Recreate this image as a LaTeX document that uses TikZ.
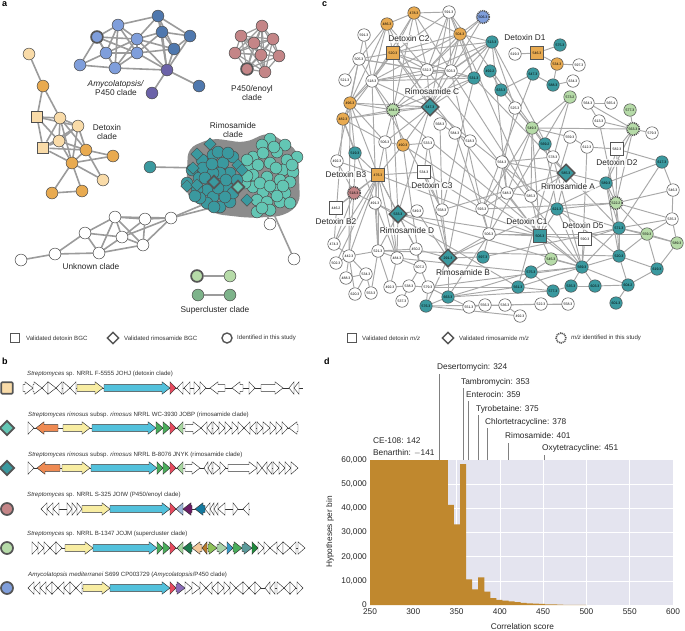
\documentclass[tikz,border=0pt]{standalone}
\usepackage{fontspec}
\setmainfont{Liberation Sans}
\usetikzlibrary{shapes.geometric}
\pgfdeclarelayer{bg}
\pgfdeclarelayer{paper}
\pgfsetlayers{paper,bg,main}
\definecolor{ndraw}{HTML}{4D4D4D}
\definecolor{thickc}{HTML}{555555}
\definecolor{edgeA}{HTML}{9B9B9B}
\definecolor{edgeC}{HTML}{A8A8A8}
\definecolor{amyL}{HTML}{7F9EDB}
\definecolor{amyD}{HTML}{4F78AE}
\definecolor{amyP}{HTML}{6B62A8}
\definecolor{pinkc}{HTML}{C48587}
\definecolor{detL}{HTML}{F9DBA8}
\definecolor{detO}{HTML}{E8AA50}
\definecolor{rimD}{HTML}{3A999F}
\definecolor{rimL}{HTML}{63C6B4}
\definecolor{supL}{HTML}{B6DBA8}
\definecolor{supD}{HTML}{7DB38A}
\definecolor{blobc}{HTML}{8C8C8C}
\definecolor{gY}{HTML}{F8EDA2}
\definecolor{gB}{HTML}{52C1DC}
\definecolor{gR}{HTML}{E84A5F}
\definecolor{gG}{HTML}{4AAE5C}
\definecolor{gLG}{HTML}{A8D7A0}
\definecolor{gO}{HTML}{EF8A52}
\definecolor{gLB}{HTML}{9DB8DA}
\definecolor{gPU}{HTML}{6C1D65}
\definecolor{gTB}{HTML}{13799F}
\definecolor{gDG}{HTML}{1C7A4D}
\definecolor{gPE}{HTML}{F5C99B}
\definecolor{gBR}{HTML}{B97B2C}
\definecolor{gYG}{HTML}{8FC35A}
\definecolor{gPG}{HTML}{A9D3A9}
\definecolor{gSB}{HTML}{3A9BC9}
\definecolor{gTG}{HTML}{5B9B9B}
\definecolor{gDGb}{HTML}{1F8A3B}
\definecolor{gPL}{HTML}{8A6BB8}
\definecolor{histc}{HTML}{C0882E}
\definecolor{plotbg}{HTML}{E4E4EF}
\definecolor{annc}{HTML}{808080}
\newcommand\genearrow[3]{%
 \pgfmathsetmacro\gnLen{abs(#2-#1)}%
 \pgfmathsetmacro\gnHd{(#2>#1) ? min(8,\gnLen) : -min(8,\gnLen)}%
 \pgfmathsetmacro\gnMid{#2-\gnHd}%
 \filldraw[genest, fill=#3] (#1,\gy-3.4) -- (\gnMid,\gy-3.4) -- (\gnMid,\gy-6.2) -- (#2,\gy) -- (\gnMid,\gy+6.2) -- (\gnMid,\gy+3.4) -- (#1,\gy+3.4) -- cycle;}
\tikzset{
 lbl/.style={font=\fontsize{8.3}{9.8}\selectfont, text=black!85, inner sep=0.5pt, align=center},
 pan/.style={font=\fontsize{9}{10}\selectfont\bfseries, inner sep=0pt, anchor=north west},
 ae/.style={draw=edgeA, line width=1.6pt},
 an/.style={circle, draw=ndraw, line width=0.5pt, minimum size=11.8pt, inner sep=0pt},
 athick/.style={line width=1.7pt, draw=thickc},
 asq/.style={rectangle, draw=ndraw, line width=0.5pt, minimum size=11pt, inner sep=0pt, fill=detL},
 adi/.style={diamond, draw=ndraw, line width=0.5pt, minimum size=12.5pt, inner sep=0pt, fill=rimD},
 ce/.style={draw=edgeC, line width=0.95pt},
 ncW/.style={circle, draw=ndraw, line width=0.5pt, minimum size=12.5pt, inner sep=0pt, font=\fontsize{3.5}{4}\selectfont, fill=white},
 ncO/.style={ncW, fill=detO},
 ncT/.style={ncW, fill=rimD},
 ncG/.style={ncW, fill=supL},
 dotb/.style={draw=thickc, line width=1.6pt, dash pattern=on 1pt off 0.9pt},
 ncGd/.style={ncW, fill=supL, dotb},
 ncBd/.style={ncW, fill=amyL, dotb},
 ncPd/.style={ncW, fill=pinkc, dotb},
 ncSq/.style={rectangle, draw=thickc, line width=1.5pt, minimum size=13pt, inner sep=0pt, font=\fontsize{3.5}{4}\selectfont, fill=white},
 ncOs/.style={ncSq, fill=detO},
 ncWs/.style={ncSq},
 ncTs/.style={ncSq, fill=rimD},
 ncTd/.style={diamond, draw=thickc, line width=1.5pt, minimum size=18pt, inner sep=0pt, fill=rimD, font=\fontsize{3.5}{4}\selectfont},
 clbl/.style={font=\fontsize{8.3}{9}\selectfont, fill=white, fill opacity=0.75, text opacity=1, inner sep=0.8pt, text=black!85},
 genest/.style={draw=black!80, line width=0.45pt},
 glbl/.style={font=\fontsize{6.1}{7}\selectfont, text=black!80, anchor=base west, inner sep=0pt},
 leg/.style={font=\fontsize{6.1}{7}\selectfont, text=black!80, anchor=west, inner sep=0pt},
 dl/.style={font=\fontsize{8.3}{9}\selectfont, text=black!85, inner sep=0pt},
 ann/.style={draw=annc, line width=0.7pt},
}
\begin{document}
\begin{tikzpicture}[x=1pt,y=-1pt]
\useasboundingbox (0,0) rectangle (685,630);
\begin{pgfonlayer}{paper}
\fill[white] (0,0) rectangle (685,630);
\end{pgfonlayer}

% ================= panel labels
\node[pan] (pa) at (2,1) {a};
\node[pan] (pc) at (322,1) {c};
\node[pan] (pb) at (2,358) {b};
\node[pan] (pd) at (324,358) {d};

% ================= panel a
% Amycolatopsis
\node[an, fill=amyL, athick] (m1) at (97,37) {};
\node[an, fill=amyL] (m2) at (118,25) {};
\node[an, fill=amyD] (m3) at (158,16) {};
\node[an, fill=amyL] (m4) at (137,39) {};
\node[an, fill=amyD] (m5) at (162,32) {};
\node[an, fill=amyD] (m6) at (190,36) {};
\node[an, fill=amyL] (m7) at (106,53) {};
\node[an, fill=amyL] (m8) at (137,53) {};
\node[an, fill=amyD] (m9) at (174,49) {};
\node[an, fill=amyL] (m10) at (80,65) {};
\node[an, fill=amyL] (m11) at (115,68) {};
\node[an, fill=amyP] (m12) at (167,70) {};
\node[an, fill=amyP] (m13) at (152,93) {};
\node[an, fill=amyD] (m14) at (199,86) {};
\begin{pgfonlayer}{bg}
\foreach \a/\b in {m1/m2,m1/m4,m1/m7,m1/m8,m1/m10,m1/m11,m2/m4,m2/m7,m2/m8,m2/m3,m2/m11,m4/m7,m4/m8,m4/m5,m4/m3,m4/m11,m4/m9,m7/m8,m7/m10,m7/m11,m8/m11,m8/m12,m8/m9,m8/m5,m10/m11,m11/m12,m3/m5,m3/m6,m3/m9,m5/m6,m5/m9,m5/m12,m6/m9,m9/m12,m6/m12,m12/m13,m12/m14,m3/m12,m4/m12}
 \draw[ae] (\a) -- (\b);
\end{pgfonlayer}
\node[lbl] (amylab) at (116,88) {\textit{Amycolatopsis/}\\P450 clade};

% P450/enoyl
\node[an, fill=pinkc] (p1) at (262,26) {};
\node[an, fill=pinkc] (p2) at (241,36) {};
\node[an, fill=pinkc] (p3) at (273,39) {};
\node[an, fill=pinkc] (p4) at (254,43) {};
\node[an, fill=pinkc] (p5) at (235,53) {};
\node[an, fill=pinkc] (p6) at (261,55) {};
\node[an, fill=pinkc] (p7) at (279,56) {};
\node[an, fill=pinkc, athick] (p8) at (247,69) {};
\node[an, fill=pinkc] (p9) at (265,72) {};
\begin{pgfonlayer}{bg}
\foreach \i in {1,...,8} {
  \pgfmathtruncatemacro\jst{\i+1}
  \foreach \j in {\jst,...,9} \draw[ae, line width=1.2pt] (p\i) -- (p\j);
}
\end{pgfonlayer}
\node[lbl] (enlab) at (252,93) {P450/enoyl\\clade};

% Detoxin
\node[an, fill=detL] (x1) at (29,54) {};
\node[an, fill=detO] (x2) at (43,86) {};
\node[asq] (x3) at (37,117) {};
\node[an, fill=detL] (x4) at (60,118) {};
\node[an, fill=detL] (x5) at (78,126) {};
\node[asq, athick] (x6) at (43,148) {};
\node[an, fill=detL] (x7) at (59,141) {};
\node[an, fill=detO] (x8) at (86,150) {};
\node[an, fill=detO] (x9) at (113,156) {};
\node[an, fill=detO] (x10) at (72,163) {};
\node[an, fill=detL] (x11) at (103,180) {};
\node[an, fill=detO] (x12) at (52,193) {};
\node[an, fill=detO] (x13) at (82,191) {};
\begin{pgfonlayer}{bg}
\foreach \a/\b in {x1/x2,x2/x3,x2/x4,x3/x4,x3/x6,x3/x7,x3/x5,x4/x5,x4/x7,x4/x8,x4/x6,x4/x10,x5/x7,x5/x8,x5/x10,x6/x7,x6/x8,x6/x10,x7/x8,x7/x10,x8/x9,x8/x10,x8/x11,x9/x10,x10/x11,x10/x12,x10/x13,x12/x13,x6/x5}
 \draw[ae] (\a) -- (\b);
\end{pgfonlayer}
\node[lbl] (detlab) at (107,132) {Detoxin\\clade};

% Rimosamide clade
\begin{pgfonlayer}{bg}
\fill[blobc, rounded corners=9pt] (188,148) -- (212,138) -- (245,143) -- (268,132) -- (298,150) -- (300,204) -- (284,216) -- (250,218) -- (214,214) -- (186,196) -- cycle;
\end{pgfonlayer}
\foreach \px/\py in {270/139,262/145,285/145,253/157,263/153,277/152,297/157,287/160,248/167,258/165,270/163,283/170,293/172,253/175,267/177,280/180,290/182,253/187,263/192,275/190,285/193,257/200,267/202,280/202,290/203,257/212,270/210,245/183,247/160,274/147,292/165,276/168,260/183,270/186,283/186,247/176,262/208,277/196}
 \node[an, fill=rimL] at (\px,\py) {};
\foreach \px/\py in {213/155,202/160,192/170,199/178,187/183,207/190,213/197,220/207,230/202,233/157,223/163,230/173,220/173,203/168,197/190,213/173,227/187,233/193,207/203,237/180,218/152,228/153,225/197,200/198,212/164,205/178,218/188,226/180,214/207,195/196}
 \node[an, fill=rimD] at (\px,\py) {};
\foreach \px/\py in {210/144,197/154,193/168,187/186,197/185,238/165,247/200,242/170}
 \node[adi] at (\px,\py) {};
\node[adi, athick, minimum size=13.5pt] (rt1) at (214,182) {};
\node[adi, athick, minimum size=13.5pt, fill=rimL] (rt2) at (238,187) {};
\node[lbl] (rimlab) at (233,130) {Rimosamide\\clade};
\coordinate (rb1) at (203,168);
\coordinate (rb2) at (207,203);
\coordinate (rb2b) at (218,206);
\coordinate (rb3) at (265,208);
\coordinate (rb4) at (272,210);
\node[an, fill=rimD] (rs) at (150,167) {};

% Unknown clade
\node[an, fill=white] (u1) at (21,260) {};
\node[an, fill=white] (u2) at (55,254) {};
\node[an, fill=white] (u3) at (85,233) {};
\node[an, fill=white] (u4) at (99,253) {};
\node[an, fill=white] (u5) at (115,217) {};
\node[an, fill=white] (u6) at (122,237) {};
\node[an, fill=white] (u7) at (145,219) {};
\node[an, fill=white] (u8) at (143,245) {};
\node[an, fill=white] (u9) at (171,218) {};
\node[an, fill=white] (u10) at (270,224) {};
\node[an, fill=white] (u11) at (294,259) {};
\begin{pgfonlayer}{bg}
\foreach \a/\b in {u1/u2,u2/u3,u2/u4,u3/u5,u3/u6,u3/u4,u4/u5,u4/u8,u4/u6,u5/u7,u5/u6,u5/u8,u5/u9,u6/u7,u6/u8,u7/u9,u7/u8,u8/u9,u6/u9,u9/rb2,u9/rb2b,u10/rb3,u11/rb4,rs/rb1}
 \draw[ae] (\a) -- (\b);
\end{pgfonlayer}
\node[lbl] (unklab) at (91,267) {Unknown clade};

% Supercluster
\node[an, fill=supL, athick] (s1) at (197,276) {};
\node[an, fill=supL] (s2) at (230,276) {};
\node[an, fill=supD] (s3) at (198,295) {};
\node[an, fill=supD] (s4) at (230,295) {};
\begin{pgfonlayer}{bg}
\draw[ae] (s1) -- (s2);
\draw[ae] (s3) -- (s4);
\end{pgfonlayer}
\node[lbl] (suplab) at (215,310) {Supercluster clade};

% legend a
\node[rectangle, draw=thickc, line width=1.4pt, minimum size=9pt, inner sep=0pt] (lga1) at (15,338) {};
\node[leg] (lga1t) at (26,338) {Validated detoxin BGC};
\node[diamond, draw=thickc, line width=1.4pt, minimum size=12pt, inner sep=0pt] (lga2) at (113,338) {};
\node[leg] (lga2t) at (124,338) {Validated rimosamide BGC};
\node[circle, draw=thickc, line width=1.4pt, minimum size=10pt, inner sep=0pt] (lga3) at (227,338) {};
\node[leg] (lga3t) at (237,338) {Identified in this study};

% ================= panel c nodes
\node[ncO] (A1) at (414,13) {478.3};
\node[ncW] (A2) at (449,12) {591.3};
\node[ncBd] (A3) at (483,17) {506.3};
\node[ncO] (A4) at (387,24) {486.3};
\node[ncW] (A5) at (364,35) {591.3};
\node[ncO] (A6) at (460,34) {504.3};
\node[ncT] (A7) at (492,42) {513.3};
\node[ncOs] (A8) at (393,53) {520.3};
\node[ncW] (A9) at (359,59) {505.3};
\node[ncW] (A10) at (427,70) {532.3};
\node[ncW] (A11) at (451,71) {503.3};
\node[ncT] (A12) at (474,78) {531.3};
\node[ncT] (A13) at (490,71) {492.2};
\node[ncW] (A14) at (345,80) {521.3};
\node[ncW] (A15) at (372,81) {518.3};
\node[ncT] (A16) at (501,90) {633.3};
\node[ncO] (A17) at (350,103) {496.3};
\node[ncGd] (A18) at (393,110) {484.3};
\node[ncTd] (A19) at (430,107) {547.3};
\node[ncO] (A20) at (343,119) {482.3};
\node[ncW] (A21) at (440,124) {568.3};
\node[ncW] (A22) at (455,133) {584.3};
\node[ncW] (A23) at (385,142) {506.3};
\node[ncO] (A24) at (403,145) {490.3};
\node[ncW] (A25) at (428,143) {533.3};
\node[ncW] (A26) at (470,141) {518.3};
\node[ncT] (A27) at (355,153) {519.3};

\node[ncOs] (B1) at (537,53) {546.3};
\node[ncT] (B2) at (560,45) {575.3};
\node[ncW] (B3) at (515,54) {619.3};
\node[ncO] (B4) at (557,64) {534.3};
\node[ncW] (B5) at (579,65) {597.3};
\node[ncT] (B6) at (533,74) {647.3};
\node[ncT] (B7) at (553,85) {588.3};
\node[ncW] (B8) at (573,81) {634.3};
\node[ncG] (B9) at (570,97) {573.2};
\node[ncW] (B10) at (588,103) {564.3};
\node[ncW] (B11) at (611,103) {565.4};
\node[ncG] (B12) at (630,110) {577.3};
\node[ncW] (B13) at (515,108) {525.3};
\node[ncW] (B14) at (599,121) {613.3};
\node[ncG] (B15) at (532,128) {549.3};
\node[ncGd] (B16) at (633,129) {563.3};
\node[ncW] (B17) at (652,133) {579.3};
\node[ncW] (B18) at (570,137) {559.3};
\node[ncW] (B19) at (587,147) {612.3};
\node[ncWs] (B20) at (617,149) {582.3};
\node[ncT] (B21) at (545,144) {569.2};
\node[ncW] (B22) at (553,157) {578.3};
\node[ncT] (B23) at (662,162) {617.3};

\node[ncW] (C1) at (337,161) {492.3};
\node[ncOs] (C2) at (378,175) {476.3};
\node[ncWs] (C3) at (424,172) {534.3};
\node[ncPd] (C4) at (354,193) {518.3};
\node[ncW] (C5) at (375,203) {491.3};
\node[ncWs] (C6) at (336,208) {446.2};
\node[ncTd] (C7) at (398,214) {533.3};
\node[ncW] (C8) at (417,211) {549.3};
\node[ncW] (C9) at (442,210) {558.3};
\node[ncW] (C10) at (482,209) {593.3};
\node[ncW] (C11) at (334,244) {474.3};
\node[ncW] (C12) at (489,234) {506.3};
\node[ncW] (C13) at (349,256) {442.3};
\node[ncW] (C14) at (378,251) {521.3};
\node[ncW] (C15) at (416,249) {450.2};
\node[ncW] (C16) at (397,258) {484.3};
\node[ncTd] (C17) at (448,258) {291.3};
\node[ncT] (C18) at (483,257) {697.3};
\node[ncW] (C19) at (336,263) {502.3};
\node[ncW] (C20) at (420,267) {507.2};
\node[ncW] (C21) at (366,274) {534.3};
\node[ncW] (C22) at (346,278) {488.3};
\node[ncW] (C23) at (390,287) {492.3};
\node[ncW] (C24) at (409,286) {538.3};
\node[ncW] (C25) at (428,287) {579.3};
\node[ncT] (C26) at (448,297) {663.3};
\node[ncW] (C27) at (355,294) {620.3};
\node[ncW] (C28) at (371,293) {553.3};
\node[ncW] (C29) at (402,301) {537.3};
\node[ncT] (C30) at (426,306) {576.3};
\node[ncW] (C31) at (469,307) {551.3};
\node[ncW] (C32) at (485,305) {556.3};

\node[ncW] (D1) at (505,305) {536.3};
\node[ncW] (D2) at (520,316) {492.3};
\node[ncW] (D3) at (541,304) {522.3};
\node[ncW] (D4) at (568,304) {558.3};
\node[ncT] (D5) at (518,287) {561.3};
\node[ncT] (D6) at (553,291) {577.3};
\node[ncT] (D7) at (531,272) {575.3};
\node[ncG] (D8) at (551,259) {545.3};
\node[ncTs] (D9) at (540,236) {506.3};
\node[ncW] (D10) at (507,193) {548.3};
\node[ncW] (D11) at (531,196) {585.3};
\node[ncW] (D12) at (502,162) {564.3};
\node[ncTd] (D13) at (566,173) {585.3};
\node[ncT] (D14) at (606,183) {589.3};
\node[ncW] (D15) at (673,190) {546.3};
\node[ncGd] (D16) at (616,203) {522.2};
\node[ncT] (D17) at (557,209) {621.3};
\node[ncW] (D18) at (672,219) {535.3};
\node[ncT] (D19) at (619,228) {571.3};
\node[ncG] (D20) at (647,234) {559.3};
\node[ncWs] (D21) at (585,239) {590.3};
\node[ncG] (D22) at (677,243) {589.3};
\node[ncT] (D23) at (619,256) {520.3};
\node[ncT] (D24) at (582,267) {569.3};
\node[ncT] (D25) at (657,269) {619.3};
\node[ncT] (D26) at (628,285) {604.2};
\node[ncT] (D27) at (571,286) {535.3};
\node[ncT] (D28) at (595,286) {603.3};
\node[ncT] (D29) at (616,303) {601.3};

\begin{pgfonlayer}{bg}
\foreach \a/\b in {A1/A4,A1/A2,A1/A6,A1/A8,A1/A10,A1/A11,A1/A15,A1/A18,A2/A6,A2/A10,A2/A11,A2/A8,A2/A12,A2/A19,A4/A8,A4/A9,A4/A15,A4/A10,A4/A17,A4/A19,A5/A9,A6/A7,A6/A10,A6/A11,A6/A12,A6/A8,A6/A15,A6/A19,A7/A11,A7/A10,A7/A12,A7/A8,A7/A18,A7/A19,A8/A9,A8/A15,A8/A10,A8/A11,A8/A18,A8/A19,A8/A17,A9/A14,A9/A15,A9/A17,A9/A10,A9/A12,A10/A15,A10/A11,A10/A18,A10/A19,A11/A12,A11/A15,A11/A19,A12/A15,A12/A18,A12/A19,A15/A17,A15/A18,A15/A20,A15/A19,A17/A18,A17/A19,A17/A20,A17/A27,A17/A23,A18/A19,A18/A24,A18/A23,A18/A20,A19/A24,A19/A23,A19/A20,A20/A23,A20/A27,A21/A22,A23/A24,A24/A25,A22/A26,A3/A6,A3/A11,A3/A10,A13/A16,A5/A15,
A24/C2,A23/C2,A27/C2,A27/C4,A17/C2,A20/C5,A18/C7,A19/C7,A7/B13,A7/D10,A7/B22,A16/B15,A12/C9,A11/C10,A6/D11,A2/B21,A24/D9,A19/D17,A22/C12,A26/C17,A10/D24,A12/D19,A8/D9,A25/C17,A15/C9,A18/D24,A11/D11,A21/C9,A20/C11,A17/C13,A15/C14,A9/C1,A23/C16,A24/C20,
B1/B2,B1/B4,B1/B3,B4/B5,B4/B7,B6/B7,B7/B8,B9/B15,B10/B11,B10/B14,B12/B16,B16/B17,B14/B16,B16/B20,B15/B16,B15/B18,B15/B22,B19/B20,B19/B18,B20/B23,B21/B22,B10/B16,B13/B15,B16/D16,B16/D14,B20/D14,B20/D16,B9/C12,B15/C10,B15/D9,B15/D10,B15/D11,B14/D16,B6/A16,B13/C12,B18/D9,B19/D24,B22/D24,B21/D17,B6/C10,B9/D5,
C1/C2,C2/C4,C2/C5,C2/C6,C2/C7,C2/C11,C2/C13,C2/C14,C2/C19,C4/C6,C4/C5,C4/C11,C4/C13,C5/C7,C5/C14,C7/C8,C7/C14,C7/C15,C7/C16,C11/C13,C13/C19,C13/C22,C13/C21,C13/C14,C14/C15,C14/C16,C15/C20,C15/C17,C16/C20,C21/C22,C21/C27,C21/C28,C23/C24,C24/C25,C25/C26,C25/C30,C26/C30,C26/C31,C26/C17,C17/C18,C17/C9,C17/C12,C18/C12,C31/C32,C32/D1,D1/D2,D1/D3,D3/D4,C3/C9,C3/C10,C3/C2,C3/A25,C25/D5,C26/D5,C26/D7,C26/D6,C30/C17,C20/C24,C20/C25,C29/C24,C23/C16,C23/C14,C28/C14,C27/C13,C1/C4,C3/C17,C10/C12,C12/D9,C10/D10,C2/D9,C7/D9,C7/D24,C14/D23,C5/D5,C16/D7,C17/D14,C18/D19,C9/D13,C10/D16,C12/D20,C12/C26,C25/D24,C30/D4,D2/C30,C8/C17,C5/C16,C2/C16,C2/C15,
D5/D6,D5/D7,D6/D7,D7/D8,D8/D9,D9/D17,D9/D11,D9/D10,D10/D11,D11/D13,D12/D13,D12/B22,D13/B22,D13/D14,D13/D17,D14/D16,D15/D18,D16/D19,D16/D17,D16/D20,D16/D18,D16/D23,D16/D15,D19/D20,D19/D23,D19/D24,D19/D22,D20/D22,D20/D23,D20/D25,D23/D24,D23/D26,D23/D25,D24/D27,D24/D28,D24/D26,D25/D26,D26/D28,D26/D29,D27/D28,D21/D24,D21/D19,D9/D21,D9/D24,D17/D19,D17/D24,D6/D27,D8/D24,D22/D25,D18/D22,B23/D15,B23/D14,B23/D19,D18/D19,D18/D20,D14/D19,D14/D23,D7/D24,D5/D24,D17/D23,D12/D10}
 \draw[ce] (\a) -- (\b);
\end{pgfonlayer}

% c labels
\node[clbl] (lC2) at (409,39) {Detoxin C2};
\node[clbl] (lD1) at (525,38) {Detoxin D1};
\node[clbl] (lRC) at (432,92) {Rimosamide C};
\node[clbl] (lB3) at (346,175) {Detoxin B3};
\node[clbl] (lC3) at (432,186) {Detoxin C3};
\node[clbl] (lB2) at (336,222) {Detoxin B2};
\node[clbl] (lRD) at (407,231) {Rimosamide D};
\node[clbl] (lRB) at (463,273) {Rimosamide B};
\node[clbl] (lC1) at (527,222) {Detoxin C1};
\node[clbl] (lD5) at (583,226) {Detoxin D5};
\node[clbl] (lD2) at (617,163) {Detoxin D2};
\node[clbl] (lRA) at (568,187) {Rimosamide A};

% legend c
\node[rectangle, draw=thickc, line width=1.4pt, minimum size=9pt, inner sep=0pt] (lgc1) at (352,338) {};
\node[leg] (lgc1t) at (362,338) {Validated detoxin \textit{m/z}};
\node[diamond, draw=thickc, line width=1.4pt, minimum size=12pt, inner sep=0pt] (lgc2) at (448,338) {};
\node[leg] (lgc2t) at (459,338) {Validated rimosamide \textit{m/z}};
\node[circle, dotb, minimum size=10pt, inner sep=0pt] (lgc3) at (561,338) {};
\node[leg] (lgc3t) at (571,338) {\textit{m/z} identified in this study};

% ================= panel b
\node[glbl] (gl1) at (27,375.5) {\textit{Streptomyces} sp. NRRL F-5555 JOHJ (detoxin clade)};
\node[glbl] (gl2) at (28,416) {\textit{Streptomyces rimosus} subsp. \textit{rimosus} NRRL WC-3930 JOBP (rimosamide clade)};
\node[glbl] (gl3) at (28,456.5) {\textit{Streptomyces rimosus} subsp. \textit{rimosus} NRRL B-8076 JNYK (rimosamide clade)};
\node[glbl] (gl4) at (27,496) {\textit{Streptomyces} sp. NRRL S-325 JOIW (P450/enoyl clade)};
\node[glbl] (gl5) at (27,535.5) {\textit{Streptomyces} sp. NRRL B-1347 JOJM (supercluster clade)};
\node[glbl] (gl6) at (28,576) {\textit{Amycolatopsis mediterranei} S699 CP003729 (\textit{Amycolatopsis}/P450 clade)};

\node[rectangle, draw=thickc, line width=1.7pt, minimum size=11.5pt, inner sep=0pt, fill=detL, rounded corners=1pt] (ic1) at (7,388) {};
\node[diamond, draw=thickc, line width=1.7pt, minimum size=15pt, inner sep=0pt, fill=rimL] (ic2) at (7,428) {};
\node[diamond, draw=thickc, line width=1.7pt, minimum size=15pt, inner sep=0pt, fill=rimD] (ic3) at (7,468) {};
\node[circle, draw=thickc, line width=1.7pt, minimum size=12pt, inner sep=0pt, fill=pinkc] (ic4) at (7,509) {};
\node[circle, draw=thickc, line width=1.7pt, minimum size=12pt, inner sep=0pt, fill=supL] (ic5) at (7,548) {};
\node[circle, draw=thickc, line width=1.7pt, minimum size=12pt, inner sep=0pt, fill=amyL] (ic6) at (7,588) {};

% row 1
\def\gy{388}
\draw[genest] (23,\gy) -- (303,\gy);
\genearrow{23}{33}{white}\genearrow{33}{42}{white}\genearrow{48}{42}{white}\genearrow{48}{56}{white}\genearrow{62}{56}{white}\genearrow{63}{70}{white}\genearrow{76}{70}{white}
\genearrow{77}{103}{gY}\genearrow{104}{170}{gB}\genearrow{170}{176}{gR}
\genearrow{183}{177}{white}\genearrow{190}{184}{white}\genearrow{194}{200}{white}\genearrow{200}{206}{white}\genearrow{225}{210}{white}\genearrow{243}{232}{white}\genearrow{249}{255}{white}\genearrow{261}{283}{white}\genearrow{294}{289}{white}\genearrow{299}{294}{white}
% row 2
\def\gy{428}
\draw[genest] (28,\gy) -- (298,\gy);
\genearrow{28}{34}{white}\genearrow{58}{36}{gO}\genearrow{63}{90}{gY}\genearrow{92}{156}{gB}\genearrow{156}{163}{gG}\genearrow{163}{170}{gG}\genearrow{170}{176}{gR}\genearrow{183}{177}{gLG}
\genearrow{185}{201}{white}\genearrow{207}{201}{white}\genearrow{212}{207}{white}\genearrow{213}{219}{white}\genearrow{219}{225}{white}\genearrow{225}{231}{white}\genearrow{232}{238}{white}\genearrow{238}{244}{white}\genearrow{250}{244}{white}\genearrow{256}{250}{white}\genearrow{257}{263}{white}\genearrow{263}{270}{white}\genearrow{270}{276}{white}\genearrow{276}{282}{white}\genearrow{282}{288}{white}\genearrow{298}{289}{white}
% row 3
\def\gy{468}
\draw[genest] (28,\gy) -- (298,\gy);
\genearrow{28}{34}{white}\genearrow{60}{37}{gO}\genearrow{62}{90}{gY}\genearrow{91}{157}{gB}\genearrow{157}{163}{gG}\genearrow{163}{170}{gG}\genearrow{170}{176}{gR}\genearrow{183}{177}{gLG}
\genearrow{185}{200}{white}\genearrow{208}{204}{white}\genearrow{212}{208}{white}\genearrow{213}{220}{white}\genearrow{220}{226}{white}\genearrow{228}{257}{white}\genearrow{257}{262}{white}\genearrow{267}{262}{white}\genearrow{272}{267}{white}\genearrow{273}{279}{white}\genearrow{279}{285}{white}\genearrow{285}{291}{white}\genearrow{291}{298}{white}
% row 4
\def\gy{509}
\draw[genest] (41,\gy) -- (250,\gy);
\genearrow{47}{41}{white}\genearrow{53}{47}{white}\genearrow{59}{53}{white}\genearrow{67}{72}{white}\genearrow{72}{77}{white}\genearrow{77}{82}{white}
\genearrow{82}{110}{gY}\genearrow{110}{170}{gB}\genearrow{170}{176}{gR}\genearrow{183}{176}{gLB}\genearrow{192}{183}{gPU}\genearrow{205}{195}{gTB}
\genearrow{210}{205}{white}\genearrow{214}{210}{white}\genearrow{218}{214}{white}\genearrow{225}{218}{white}\genearrow{233}{238}{white}\genearrow{249}{243}{white}
% row 5
\def\gy{548}
\draw[genest] (32,\gy) -- (305,\gy);
\genearrow{32}{38}{white}\genearrow{38}{44}{white}\genearrow{44}{50}{white}\genearrow{56}{50}{white}\genearrow{56}{62}{white}
\genearrow{65}{93}{gY}\genearrow{93}{157}{gB}\genearrow{157}{163}{gG}\genearrow{163}{170}{gG}\genearrow{170}{176}{gR}\genearrow{183}{177}{gLG}\genearrow{192}{183}{gDG}\genearrow{202}{192}{gPE}\genearrow{207}{202}{gBR}
\genearrow{208}{217}{gYG}\genearrow{217}{227}{gPG}\genearrow{227}{233}{gSB}\genearrow{233}{242}{gG}\genearrow{242}{252}{gTG}\genearrow{252}{258}{gDGb}
\genearrow{258}{264}{white}\genearrow{264}{270}{white}\genearrow{277}{270}{white}\genearrow{283}{277}{white}\genearrow{283}{290}{white}\genearrow{296}{290}{white}\genearrow{298}{305}{white}
% row 6
\def\gy{588}
\draw[genest] (28,\gy) -- (303,\gy);
\genearrow{34}{28}{white}\genearrow{40}{34}{white}\genearrow{46}{40}{white}\genearrow{52}{46}{white}\genearrow{52}{58}{white}\genearrow{64}{58}{white}\genearrow{70}{64}{white}\genearrow{70}{76}{white}\genearrow{82}{76}{white}
\genearrow{83}{110}{gY}\genearrow{110}{170}{gB}\genearrow{170}{176}{gR}\genearrow{176}{185}{gPL}
\genearrow{185}{192}{white}\genearrow{192}{200}{white}\genearrow{200}{206}{white}\genearrow{212}{206}{white}\genearrow{218}{212}{white}\genearrow{218}{224}{white}\genearrow{224}{230}{white}\genearrow{230}{236}{white}\genearrow{243}{236}{white}\genearrow{243}{249}{white}\genearrow{255}{249}{white}\genearrow{255}{261}{white}\genearrow{270}{265}{white}\genearrow{275}{270}{white}\genearrow{277}{284}{white}\genearrow{290}{284}{white}\genearrow{290}{296}{white}\genearrow{297}{303}{white}

% ================= panel d
\begin{scope}[shift={(370,605)}]
\begin{scope}[x=0.8657pt, y=2.41667pt]
 \fill[plotbg] (0,0) rectangle (350,60);
 \foreach \v in {50,100,...,300} \draw[white, line width=0.6pt] (\v,0) -- (\v,60);
 \foreach \h in {10,20,...,50} \draw[white, line width=0.6pt] (0,\h) -- (350,\h);
 \fill[histc] (0,0) -- (0,60) -- (90,60) -- (90,41.4) -- (97,41.4) -- (97,33.4) -- (104,33.4) -- (104,58.3) -- (111,58.3) -- (111,10.6) -- (118,10.6) -- (118,6.5) -- (125,6.5) -- (125,11.4) -- (132,11.4) -- (132,5.5) -- (139,5.5) -- (139,2.8) -- (146,2.8) -- (146,2.1) -- (153,2.1) -- (153,1.8) -- (160,1.8) -- (160,1.5) -- (167,1.5) -- (167,1.15) -- (174,1.15) -- (174,0.9) -- (181,0.9) -- (181,0.7) -- (188,0.7) -- (188,0.55) -- (195,0.55) -- (195,0.42) -- (202,0.42) -- (202,0.3) -- (209,0.3) -- (209,0.22) -- (216,0.22) -- (216,0.15) -- (223,0.15) -- (223,0.1) -- (230,0.1) -- (230,0.05) -- (250,0.05) -- (250,0) -- cycle;
 \foreach \v in {0,50,...,350} {
   \pgfmathtruncatemacro\tk{\v+250}
   \node[dl, anchor=north] at (\v,-1.6) {\tk};
 }
 \node[dl, anchor=east] at (-3.5,0) {0};
 \foreach \h in {10,20,...,60} \node[dl, anchor=east] at (-3.5,\h) {\h,000};
 \node[dl] (xl) at (176,-8.8) {Correlation score};
\end{scope}
\end{scope}
\node[dl, rotate=90] (yl) at (330,532) {Hypotheses per bin};

\node[dl, anchor=west] (ce108) at (373,441) {CE-108: 142};
\node[dl, anchor=west] (benar) at (373,453) {Benarthin: $-$141};
\node[dl, anchor=west] (t1) at (437,367) {Desertomycin: 324};
\node[dl, anchor=west] (t2) at (461,382) {Tambromycin: 353};
\node[dl, anchor=west] (t3) at (466,395) {Enterocin: 359};
\node[dl, anchor=west] (t4) at (476,409) {Tyrobetaine: 375};
\node[dl, anchor=west] (t5) at (485,422) {Chlortetracycline: 378};
\node[dl, anchor=west] (t6) at (505,436) {Rimosamide: 401};
\node[dl, anchor=west] (t7) at (542,448) {Oxytetracycline: 451};
\coordinate (b1) at (439,460); \coordinate (b2) at (463,460); \coordinate (b3) at (468,460);
\coordinate (b4) at (478,460); \coordinate (b5) at (487,460); \coordinate (b6) at (508,460);
\coordinate (b7) at (544,460);
\draw[ann] (b1) -- (439,374);
\draw[ann] (b2) -- (463,388);
\draw[ann] (b3) -- (468,401);
\draw[ann] (b4) -- (478,415);
\draw[ann] (b5) -- (487,428);
\draw[ann] (b6) -- (508,443);
\draw[ann] (b7) -- (544,455);
\end{tikzpicture}
\end{document}
